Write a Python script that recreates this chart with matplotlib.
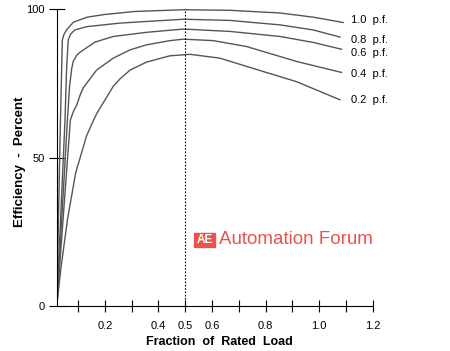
import matplotlib
matplotlib.use("Agg")
import matplotlib.pyplot as plt
from matplotlib.patches import Rectangle

plt.rcParams['font.family'] = ['Liberation Sans', 'DejaVu Sans']

# efficiency curves (fraction of rated load, percent)
pf_labels = ["1.0  p.f.", "0.8  p.f.", "0.6  p.f.", "0.4  p.f.", "0.2  p.f."]

x_10 = [0.02, 0.034, 0.041, 0.047, 0.057, 0.082, 0.134, 0.20, 0.309, 0.493, 0.667, 0.854, 0.978, 1.09]
y_10 = [0, 62.7, 89.6, 91.5, 93.0, 95.6, 97.3, 98.2, 99.2, 99.8, 99.6, 98.7, 97.3, 95.5]

x_08 = [0.02, 0.051, 0.057, 0.063, 0.072, 0.088, 0.132, 0.256, 0.493, 0.667, 0.854, 0.978, 1.078]
y_08 = [0, 62.7, 80.0, 89.6, 91.6, 93.0, 94.1, 95.3, 96.6, 96.2, 94.7, 93.0, 90.6]

x_06 = [0.02, 0.060, 0.068, 0.076, 0.082, 0.095, 0.107, 0.163, 0.231, 0.356, 0.493, 0.667, 0.854, 0.978, 1.084]
y_06 = [0, 62.7, 74.0, 80.0, 82.5, 84.5, 85.5, 88.9, 90.8, 92.2, 93.3, 92.5, 90.8, 88.8, 86.5]

x_04 = [0.02, 0.071, 0.082, 0.095, 0.107, 0.119, 0.144, 0.169, 0.231, 0.294, 0.356, 0.443, 0.493, 0.605, 0.730, 0.916, 1.084]
y_04 = [0, 62.7, 65.5, 67.8, 71.0, 73.5, 76.5, 79.5, 83.5, 86.3, 88.0, 89.4, 89.9, 89.4, 87.4, 82.4, 78.7]

x_02 = [0.02, 0.035, 0.060, 0.091, 0.132, 0.157, 0.169, 0.231, 0.256, 0.294, 0.356, 0.443, 0.518, 0.630, 0.792, 0.916, 1.078]
y_02 = [0, 12.3, 29.1, 45.0, 57.5, 62.5, 64.8, 74.0, 76.5, 79.5, 82.2, 84.3, 84.8, 83.5, 79.0, 75.6, 69.5]

label_y = [96.5, 89.5, 85.2, 78.1, 69.5]

x_ticks = [0.1, 0.2, 0.3, 0.4, 0.5, 0.6, 0.7, 0.8, 0.9, 1.0, 1.1, 1.2]
x_ticklabels = ["", "0.2", "", "0.4", "0.5", "0.6", "", "0.8", "", "1.0", "", "1.2"]
y_ticks = [0, 50, 100]

fig = plt.figure(figsize=(4.5, 3.51), dpi=100)
ax = fig.add_axes([0.126, 0.127, 0.702, 0.847])

curves = [(x_10, y_10), (x_08, y_08), (x_06, y_06), (x_04, y_04), (x_02, y_02)]
for (xs, ys), lab, ly in zip(curves, pf_labels, label_y):
    ax.plot(xs, ys, color='#555555', lw=1.0)
    ax.text(1.119, ly, lab, fontsize=8, va='center', ha='left', clip_on=False)

ax.plot([0.5, 0.5], [0, 100], color='black', lw=0.8, ls=(0, (1.5, 1.5)))

ax.set_xlim(0.02, 1.2)
ax.set_ylim(0, 100)
ax.spines['top'].set_visible(False)
ax.spines['right'].set_visible(False)
ax.set_xticks(x_ticks)
ax.set_xticklabels(x_ticklabels, fontsize=8)
ax.set_yticks(y_ticks)
ax.set_yticklabels([str(v) for v in y_ticks], fontsize=8)
ax.tick_params(axis='x', direction='inout', length=9, width=0.8, pad=6)
ax.tick_params(axis='y', direction='inout', length=11, width=0.8, pad=3)

ax.set_xlabel("Fraction  of  Rated  Load", fontsize=9, fontweight='bold')
ax.xaxis.set_label_coords(0.514, -0.098)
ax.set_ylabel("Efficiency  -  Percent", fontsize=9.5, fontweight='bold')
ax.yaxis.set_label_coords(-0.097, 0.486)

# watermark
red = '#e9534d'
fig.patches.append(Rectangle((194 / 450, 1 - 247 / 351), 21 / 450, 14 / 351,
                             transform=fig.transFigure, color=red, zorder=5))
fig.text(204.5 / 450, 1 - 240 / 351, "AE", color='white', fontsize=8.5, fontweight='bold',
         ha='center', va='center', zorder=6)
fig.text(219 / 450, 1 - 240 / 351, "Automation Forum", color=red, fontsize=13.5,
         ha='left', va='center')

fig.savefig("out.png", dpi=100)
